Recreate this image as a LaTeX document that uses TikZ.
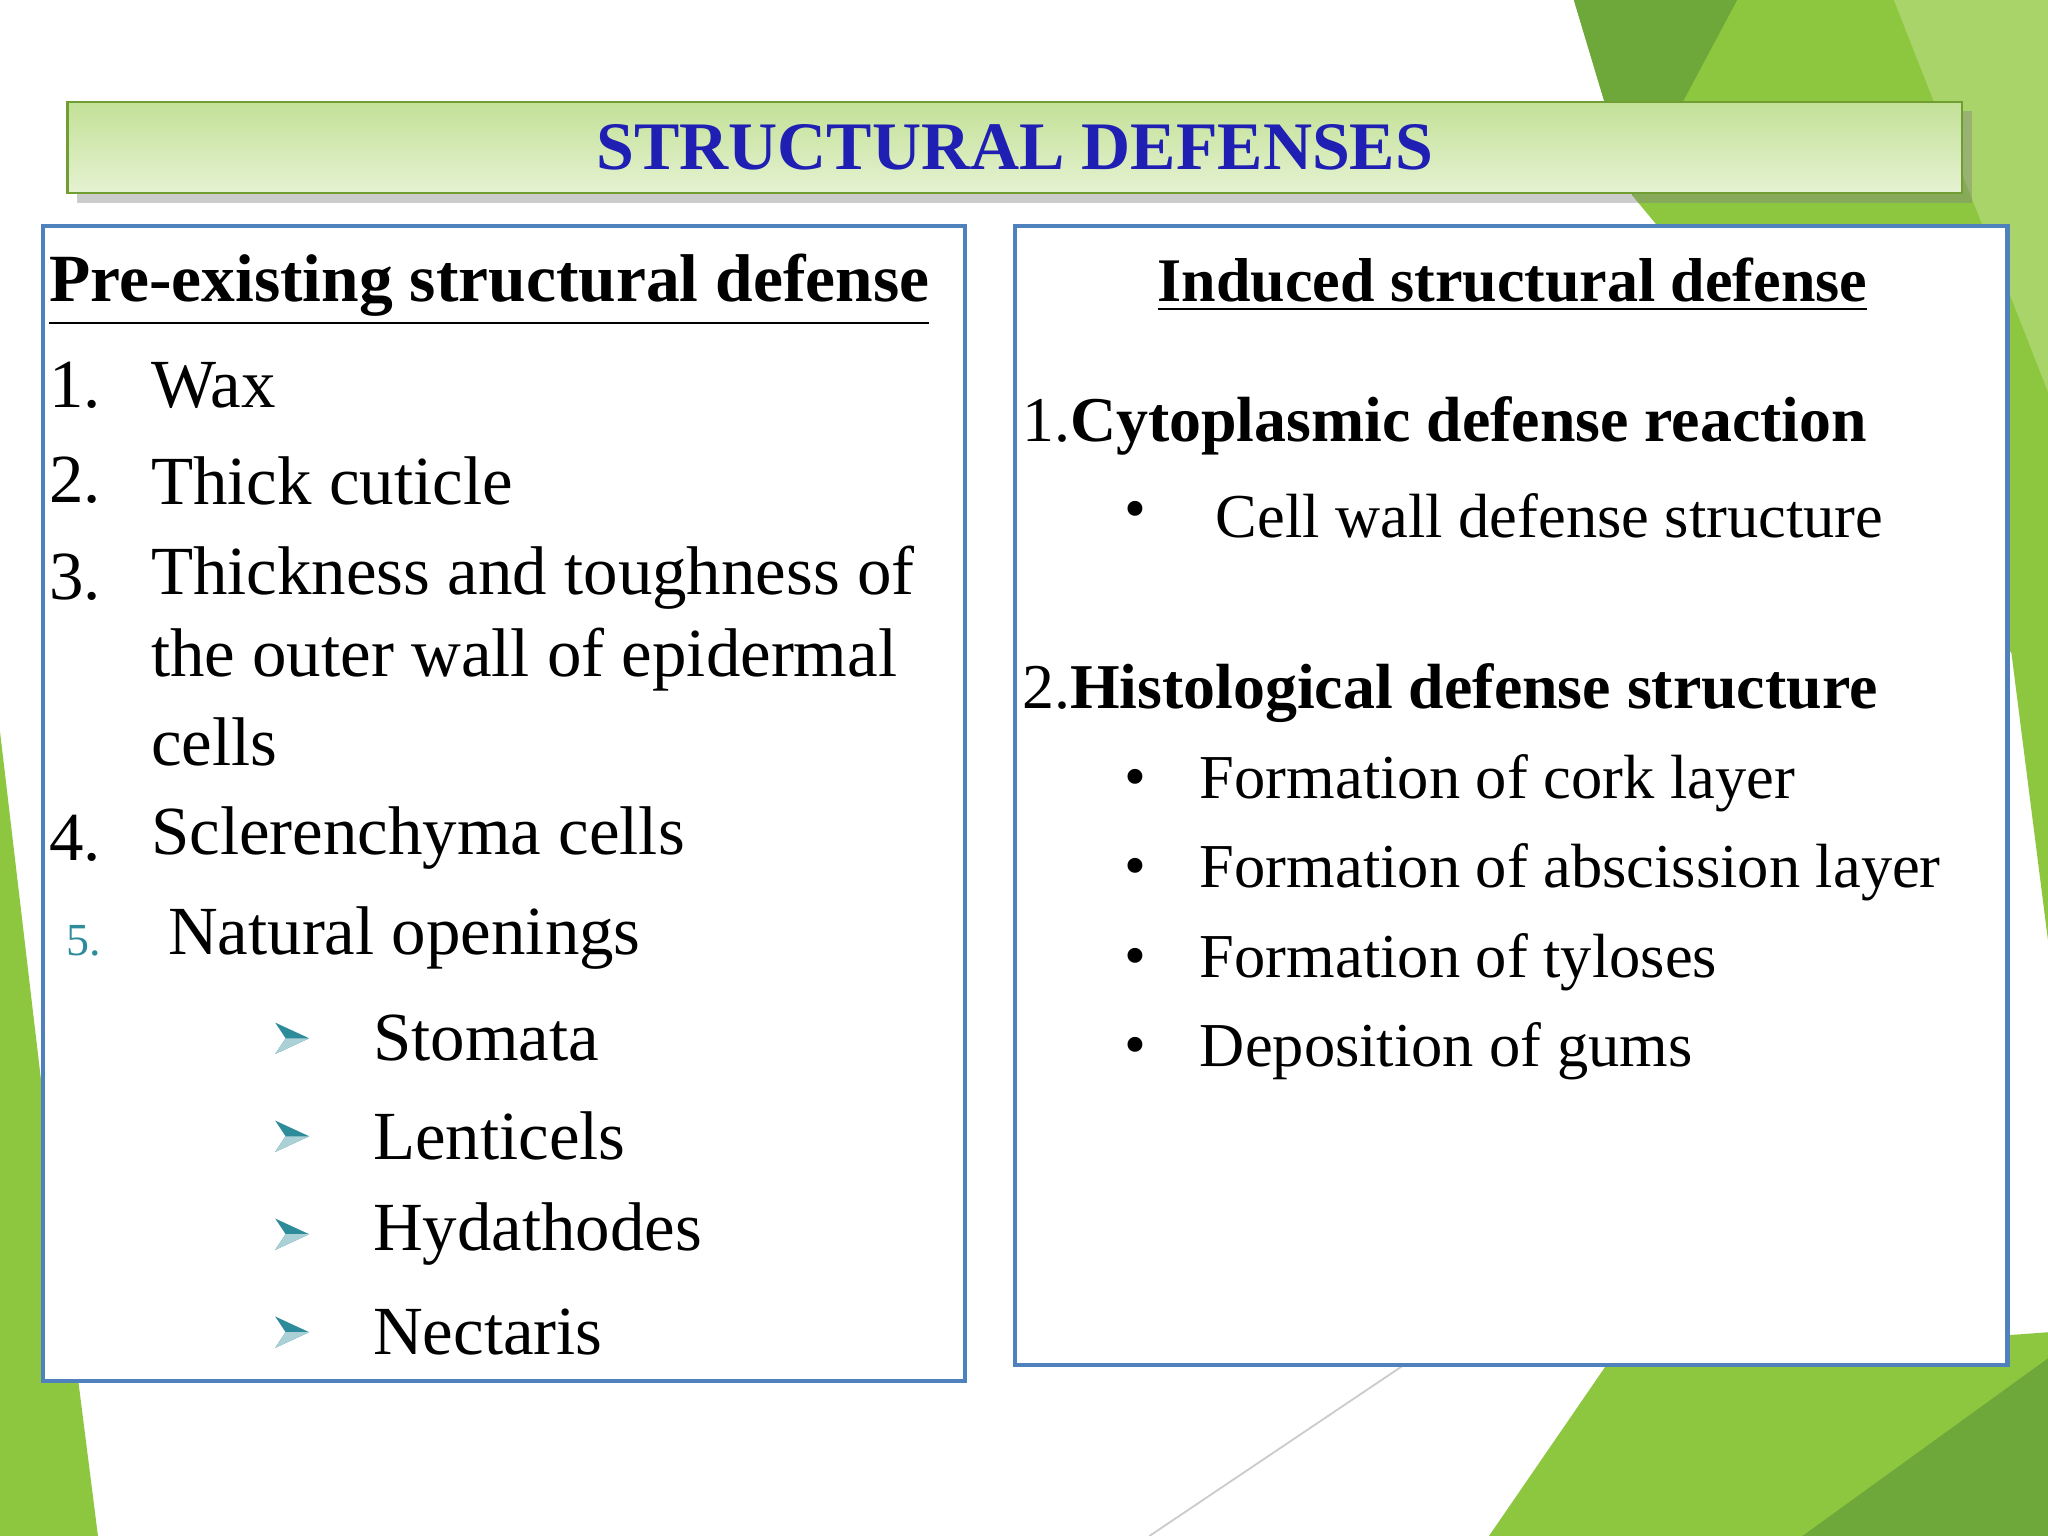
\documentclass[tikz,border=0pt]{standalone}
\usepackage{fontspec}
\setmainfont{Liberation Serif}
\usepackage{tikz}
\usetikzlibrary{shadows}
\definecolor{gA}{HTML}{8DC63F}
\definecolor{gB}{HTML}{6FA83A}
\definecolor{gC}{HTML}{A9D46A}
\definecolor{boxb}{HTML}{4F81BD}
\definecolor{ttl}{HTML}{1F1FB4}
\definecolor{teal}{HTML}{2E8B9A}
\tikzset{
 box/.style={draw=boxb,line width=0.9pt,fill=white},
 it/.style={anchor=west,inner sep=0pt,font=\fontsize{15}{18}\selectfont},
 rit/.style={anchor=west,inner sep=0pt,font=\fontsize{13.6}{16}\selectfont},
 bit/.style={anchor=west,inner sep=0pt,font=\fontsize{14}{17}\selectfont\bfseries},
}
\newcommand{\arrowmark}{\tikz[x=0.01cm,y=0.01cm,baseline=-0.5ex]{\fill[teal] (0,-12) -- (26,0) -- (0,12) -- (8,0) -- cycle; \fill[teal!40] (0,-12) -- (26,0) -- (8,0) -- cycle;}}
\begin{document}
\begin{tikzpicture}[x=0.01cm,y=-0.01cm]
\useasboundingbox (0,0) rectangle (1568,1176);
\fill[white] (0,0) rectangle (1568,1176);
% background greens
\fill[gA] (1205,0) -- (1568,0) -- (1568,720) -- (1540,500) -- (1250,150) -- cycle;
\fill[gB] (1205,0) -- (1330,0) -- (1250,150) -- cycle;
\fill[gC] (1450,0) -- (1568,0) -- (1568,300) -- cycle;
\fill[gA] (1140,1176) -- (1230,1045) -- (1568,1020) -- (1568,1176) -- cycle;
\fill[gB] (1380,1176) -- (1568,1040) -- (1568,1176) -- cycle;
\fill[gA] (0,560) -- (40,900) -- (75,1176) -- (0,1176) -- cycle;
\draw[gray!40] (880,1176) -- (1075,1045);
% title
\node[draw=gA!80!black,line width=0.5pt,top color=gC!70!white,bottom color=gC!30!white,
 drop shadow={shadow xshift=2pt,shadow yshift=-2pt,opacity=0.4},
 minimum width=14.5cm,minimum height=0.7cm,inner sep=0pt] (title) at (777,113)
 {\fontsize{14.8}{18}\selectfont\bfseries\color{ttl}STRUCTURAL DEFENSES};
% boxes
\draw[box] (33,173) rectangle (739,1057);
\draw[box] (777,173) rectangle (1537,1045);
% left
\node[bit,font=\fontsize{14.7}{18}\selectfont\bfseries] (lh) at (37,222) {\underline{Pre-existing structural defense}};
\node[it] (n1) at (37,295) {1.}; \node[it] (t1) at (115,295) {Wax};
\node[it] (n2) at (37,368) {2.}; \node[it] (t2) at (115,368) {Thick cuticle};
\node[it] (n3) at (37,442) {3.}; \node[it] (t3) at (115,442) {Thickness and toughness of};
\node[it] (t3b) at (115,505) {the outer wall of epidermal};
\node[it] (t3c) at (115,568) {cells};
\node[it] (n4) at (37,642) {4.}; \node[it] (t4) at (115,642) {Sclerenchyma cells};
\node[it,font=\fontsize{10}{12}\selectfont,text=teal] (n5) at (50,720) {5.};
\node[it] (t5) at (128,718) {Natural openings};
\foreach \y/\t/\n in {795/Stomata/a,870/Lenticels/b,945/Hydathodes/c,1020/Nectaris/d}{
 \node[it] (ar\n) at (210,\y) {\arrowmark};
 \node[it] (s\n) at (285,\y) {\t};
}
% right
\node[bit,anchor=center,font=\fontsize{13.5}{16}\selectfont\bfseries] (rh) at (1158,218) {\underline{Induced structural defense}};
\node[rit,font=\fontsize{13.9}{16}\selectfont] (r1) at (782,326) {1.\textbf{Cytoplasmic defense reaction}};
\node[rit] (b1) at (860,395) {\textbullet}; \node[rit] (c1) at (930,395) {Cell wall defense structure};
\node[rit,font=\fontsize{13.9}{16}\selectfont] (r2) at (782,531) {2.\textbf{Histological defense structure}};
\foreach \y/\t/\n in {600/Formation of cork layer/a,668/Formation of abscission layer/b,737/Formation of tyloses/c,805/Deposition of gums/d}{
 \node[rit] (rb\n) at (860,\y) {\textbullet};
 \node[rit] (rt\n) at (918,\y) {\t};
}
\end{tikzpicture}
\end{document}
